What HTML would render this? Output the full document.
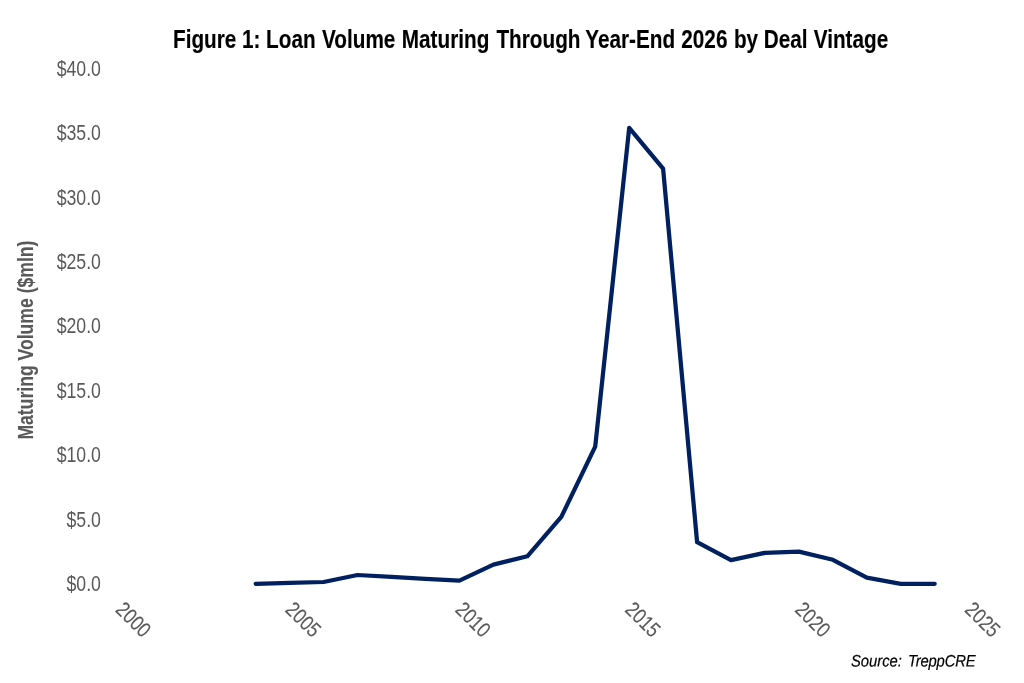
<!DOCTYPE html>
<html lang="en">
<head>
<meta charset="utf-8">
<title>Figure 1: Loan Volume Maturing Through Year-End 2026 by Deal Vintage</title>
<style>
  html, body { margin: 0; padding: 0; background: #ffffff; }
  body { width: 1024px; height: 683px; overflow: hidden; }
  svg { display: block; }
  text { font-family: "Liberation Sans", sans-serif; white-space: pre; }
  .title { font-weight: bold; font-size: 25.3px; fill: #000000; stroke: #000000; stroke-width: 0.12px; vector-effect: non-scaling-stroke; stroke-linejoin: round; }
  .title tspan { vector-effect: non-scaling-stroke; }
  .ylab  { font-size: 22.8px; fill: #595959; }
  .xlab  { font-size: 21.2px; fill: #595959; stroke: #595959; stroke-width: 0.14px; }
  .ytitle{ font-weight: bold; font-size: 21.6px; fill: #595959; stroke: #595959; stroke-width: 0.1px; vector-effect: non-scaling-stroke; }
  .src   { font-style: italic; font-size: 16.6px; fill: #000000; stroke: #000000; stroke-width: 0.2px; }
</style>
</head>
<body>
<svg width="1024" height="683" viewBox="0 0 1024 683">
  <rect x="0" y="0" width="1024" height="683" fill="#ffffff"/>

  <!-- chart title -->
  <text class="title" xml:space="preserve" transform="translate(0,47.7) scale(0.82,1)"><tspan x="210.98">Figure </tspan><tspan x="295.00">1: </tspan><tspan x="324.51">Loan </tspan><tspan x="392.68">Volume </tspan><tspan x="490.00">Maturing </tspan><tspan x="605.37">Through </tspan><tspan x="713.66">Year-End </tspan><tspan x="830.85">2026 </tspan><tspan x="895.00">by </tspan><tspan x="931.46">Deal </tspan><tspan x="992.32">Vintage</tspan></text>

  <!-- y axis tick labels -->
  <g class="ylab" text-anchor="end">
    <text transform="translate(100.9,75.90) scale(0.776,1)">$40.0</text>
    <text transform="translate(100.9,140.27) scale(0.776,1)">$35.0</text>
    <text transform="translate(100.9,204.65) scale(0.776,1)">$30.0</text>
    <text transform="translate(100.9,269.02) scale(0.776,1)">$25.0</text>
    <text transform="translate(100.9,333.40) scale(0.776,1)">$20.0</text>
    <text transform="translate(100.9,397.77) scale(0.776,1)">$15.0</text>
    <text transform="translate(100.9,462.15) scale(0.776,1)">$10.0</text>
    <text transform="translate(100.9,526.52) scale(0.776,1)">$5.0</text>
    <text transform="translate(100.9,590.90) scale(0.776,1)">$0.0</text>
  </g>

  <!-- y axis title -->
  <text class="ytitle" transform="translate(32.8,439.6) rotate(-90) scale(0.815,1)">Maturing Volume ($mln)</text>

  <!-- x axis tick labels -->
  <g class="xlab">
    <text transform="translate(114.50,610.8) rotate(45) scale(0.833,1)">2000</text>
    <text transform="translate(284.35,610.8) rotate(45) scale(0.833,1)">2005</text>
    <text transform="translate(454.20,610.8) rotate(45) scale(0.833,1)">2010</text>
    <text transform="translate(624.05,610.8) rotate(45) scale(0.833,1)">2015</text>
    <text transform="translate(793.90,610.8) rotate(45) scale(0.833,1)">2020</text>
    <text transform="translate(963.75,610.8) rotate(45) scale(0.833,1)">2025</text>
  </g>

  <!-- data series -->
  <polyline fill="none" stroke="#002060" stroke-width="4.25" stroke-linecap="round" stroke-linejoin="round"
    points="255.7,583.8 289.6,582.8 323.6,582.0 357.5,575.0 391.5,576.9 425.4,578.8 459.4,580.6 493.4,564.6 527.3,556.3 561.3,516.9 595.2,446.7 629.2,127.9 663.1,168.6 697.1,542.2 731.0,560.2 765.0,552.8 798.9,551.6 832.9,559.8 866.8,577.7 900.8,583.8 934.7,583.8"/>

  <!-- source note -->
  <text class="src" xml:space="preserve" transform="translate(0,666.1) rotate(0.03) scale(0.892,1)"><tspan x="953.92">Source: </tspan><tspan x="1017.94" letter-spacing="-0.2">TreppCRE</tspan></text>
</svg>
</body>
</html>
